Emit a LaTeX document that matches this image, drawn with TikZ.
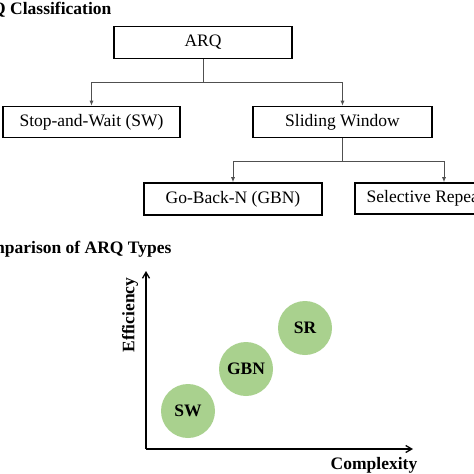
\documentclass[tikz,border=0pt]{standalone}
\usepackage{fontspec}
\setmainfont{Liberation Serif}
\usetikzlibrary{arrows.meta}
\definecolor{circgreen}{HTML}{A9D18E}
\definecolor{conngray}{HTML}{505050}
\begin{document}
\begin{tikzpicture}[x=1pt,y=-1pt,
  every node/.style={font=\fontsize{17.5}{21}\selectfont},
  box/.style={draw=black,line width=1.6pt,minimum width=178pt,minimum height=32pt,inner sep=0pt},
  conn/.style={draw=conngray,line width=0.9pt},
  connarr/.style={conn,-{Latex[length=5pt,width=4pt]}},
  axis/.style={draw=black,line width=1.3pt,-{Straight Barb[length=6pt,width=7pt]}},
  bubble/.style={circle,fill=circgreen,minimum size=54pt,inner sep=0pt,font=\fontsize{17.5}{21}\selectfont\bfseries},
  title/.style={anchor=base west,inner sep=0pt,font=\fontsize{17.5}{21}\selectfont\bfseries},
  axlabel/.style={inner sep=0pt,font=\fontsize{17.5}{21}\selectfont\bfseries}]
\useasboundingbox (0,0) rectangle (474,474);
\clip (0,0) rectangle (474,474);
\fill[white] (0,0) rectangle (474,474);

% titles
\node[title] (t1) at (-58,14) {(a) ARQ Classification};
\node[title] (t2) at (-57,253) {(b) Comparison of ARQ Types};

% tree
\node[box] (arq) at (203,42.5) {ARQ};
\node[box,minimum width=177pt,minimum height=31pt] (sw) at (91.5,122) {Stop-and-Wait (SW)};
\node[box,minimum width=179pt,minimum height=31pt] (slide) at (342.5,122) {Sliding Window};
\node[box] (gbn) at (233,199) {Go-Back-N (GBN)};
\node[box,minimum height=31pt] (sr) at (444,198.5) {Selective Repeat (SR)};

\coordinate (j1) at (203,82);
\coordinate (j2) at (342.5,161);
\draw[conn] (arq.south) -- (j1);
\draw[connarr] (j1) -| (sw.north);
\draw[connarr] (j1) -| (slide.north);
\draw[conn] (slide.south) -- (j2);
\draw[connarr] (j2) -| (gbn.north);
\draw[connarr] (j2) -| (sr.north);

% chart
\coordinate (o) at (146,449);
\coordinate (ytip) at (146,271);
\coordinate (xtip) at (413,449);
\draw[axis] (o) -- (ytip);
\draw[axis] (o) -- (xtip);
\node[axlabel,rotate=90] (eff) at (130,315) {Efficiency};
\node[axlabel] (cplx) at (374,465) {Complexity};

\node[bubble] (bsw) at (188,411) {SW};
\node[bubble] (bgbn) at (246,369) {GBN};
\node[bubble] (bsr) at (305,328) {SR};
\end{tikzpicture}
\end{document}
